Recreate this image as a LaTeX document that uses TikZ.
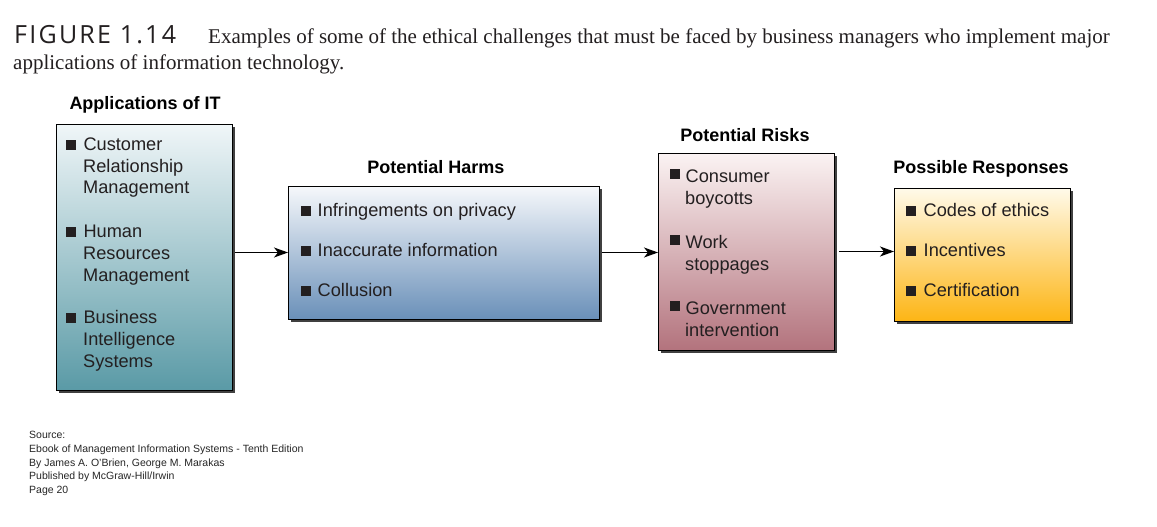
\documentclass[tikz,border=0pt]{standalone}
\usepackage{fontspec}
\setmainfont{Liberation Sans}
\newfontfamily\capfont{Liberation Serif}
\newfontfamily\figfont[LetterSpace=9]{Open Sans}
\usetikzlibrary{arrows.meta,shadows}
\definecolor{tealT}{HTML}{F0F6F8}
\definecolor{tealB}{HTML}{5A9AA6}
\definecolor{blueT}{HTML}{F6F8FB}
\definecolor{blueB}{HTML}{6A90B9}
\definecolor{roseT}{HTML}{FBF3F3}
\definecolor{roseM}{HTML}{CE9EA4}
\definecolor{roseB}{HTML}{B3737D}
\definecolor{goldT}{HTML}{FFFAEA}
\definecolor{goldM}{HTML}{FDD982}
\definecolor{goldB}{HTML}{FDB515}
\definecolor{ink}{HTML}{231F20}
\newcommand\bitem[2]{\rule{9.8pt}{9.8pt}\hspace{#1}#2}
\newcommand\ritem[2]{\raisebox{3pt}{\rule{9.8pt}{9.8pt}}\hspace{#1}#2}
\tikzset{
  box/.style={draw=black, line width=0.8pt, inner sep=0pt, outer sep=0pt, anchor=north west,
    drop shadow={shadow xshift=3pt, shadow yshift=-3pt, fill=black!75, opacity=1}},
  txt/.style={anchor=base west, inner sep=0pt, text=ink, font=\fontsize{18.2}{22}\selectfont},
  hdr/.style={anchor=base, inner sep=0pt, text=black, font=\bfseries\fontsize{18}{22}\selectfont},
  src/.style={anchor=base west, inner sep=0pt, text=black!85, font=\fontsize{10.5}{13}\selectfont},
  arr/.style={line width=1.1pt, -{Stealth[length=14pt,width=10pt,inset=4pt]}},
}
\begin{document}
\begin{tikzpicture}[x=1pt,y=-1pt]
\useasboundingbox[fill=white] (0,0) rectangle (1157,527);
% caption
\node[anchor=base west, inner sep=0pt, text=ink, font=\figfont\fontsize{25}{29}\selectfont] (fig) at (14,44) {FIGURE 1.14};
\node[anchor=base west, inner sep=0pt, text=ink, font=\capfont\fontsize{21}{25}\selectfont] (cap1) at (208,44) {Examples of some of the ethical challenges that must be faced by business managers who implement major};
\node[anchor=base west, inner sep=0pt, text=ink, font=\capfont\fontsize{21}{25}\selectfont] (cap2) at (13,70) {applications of information technology.};
% boxes
\node[box, top color=tealT, bottom color=tealB, minimum width=176pt, minimum height=266pt] (apps) at (56,124) {};
\node[box, top color=blueT, bottom color=blueB, minimum width=311pt, minimum height=133pt] (harms) at (288,186) {};
\node[box, top color=roseT, middle color=roseM, bottom color=roseB, minimum width=176pt, minimum height=197pt] (risks) at (658,153) {};
\node[box, top color=goldT, middle color=goldM, bottom color=goldB, minimum width=176pt, minimum height=133pt] (resp) at (894,188) {};
% headers
\node[hdr] (happs) at (145,110) {Applications of IT};
\node[hdr] (hharms) at (436,173) {Potential Harms};
\node[hdr] (hrisks) at (745,141) {Potential Risks};
\node[hdr] (hresp) at (981,173) {Possible Responses};
% box 1 items
\node[txt] (a1) at (66,150) {\bitem{7.5pt}{Customer}};
\node[txt] (a1b) at (83,172) {Relationship};
\node[txt] (a1c) at (83,193) {Management};
\node[txt] (a2) at (66,237) {\bitem{7.5pt}{Human}};
\node[txt] (a2b) at (83,259) {Resources};
\node[txt] (a2c) at (83,281) {Management};
\node[txt] (a3) at (66,323) {\bitem{7.5pt}{Business}};
\node[txt] (a3b) at (83,345) {Intelligence};
\node[txt] (a3c) at (83,367) {Systems};
% box 2 items
\node[txt] (h1) at (301,216) {\bitem{6.7pt}{Infringements on privacy}};
\node[txt] (h2) at (301,256) {\bitem{6.7pt}{Inaccurate information}};
\node[txt] (h3) at (301,296) {\bitem{6.7pt}{Collusion}};
% box 3 items
\node[txt] (r1) at (670,182) {\ritem{5.7pt}{Consumer}};
\node[txt] (r1b) at (685,204) {boycotts};
\node[txt] (r2) at (670,248) {\ritem{5.7pt}{Work}};
\node[txt] (r2b) at (685,270) {stoppages};
\node[txt] (r3) at (670,314) {\ritem{5.7pt}{Government}};
\node[txt] (r3b) at (685,336) {intervention};
% box 4 items
\node[txt] (p1) at (906,216) {\bitem{7.7pt}{Codes of ethics}};
\node[txt] (p2) at (906,256) {\bitem{7.7pt}{Incentives}};
\node[txt] (p3) at (906,296) {\bitem{7.7pt}{Certification}};
% arrows
\draw[arr] ([xshift=3pt]apps.east |- harms.west) -- (harms.west);
\draw[arr] ([xshift=3pt]harms.east) -- (harms.east -| risks.west);
\draw[arr] ([xshift=5pt]risks.east) -- (risks.east -| resp.west);
% source
\node[src] (s1) at (29,438) {Source:};
\node[src] (s2) at (29,452) {Ebook of Management Information Systems - Tenth Edition};
\node[src] (s3) at (29,466) {By James A. O'Brien, George M. Marakas};
\node[src] (s4) at (29,479) {Published by McGraw-Hill/Irwin};
\node[src] (s5) at (29,493) {Page 20};
\end{tikzpicture}
\end{document}
